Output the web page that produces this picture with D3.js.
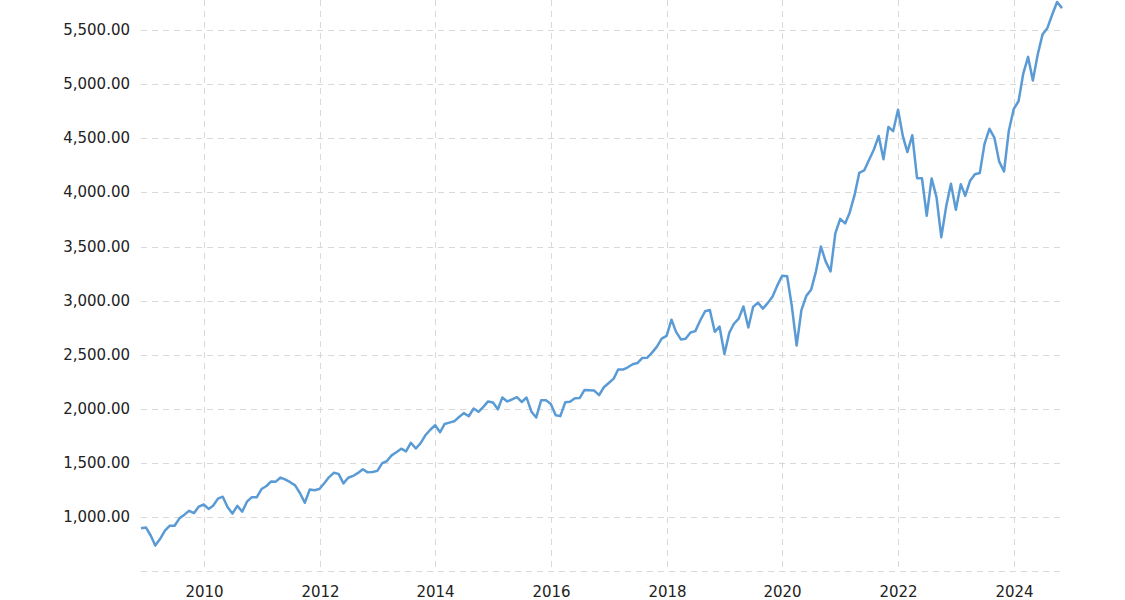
<!DOCTYPE html><html><head><meta charset="utf-8"><script src="https://cdn.jsdelivr.net/npm/d3@7"></script>
<style>body{margin:0;background:#fff}</style></head><body><svg id="c" width="1125" height="600"></svg><script>
const startMonth = [2008, 10]; // Nov 2008 (0-based month)
const values = [896,903,
826,735,798,873,919,919,987,1021,1057,1036,1096,1115,
1074,1104,1169,1187,1089,1031,1102,1049,1141,1183,1181,1258,
1286,1327,1326,1364,1345,1321,1292,1219,1131,1253,1247,1258,
1312,1366,1408,1398,1310,1362,1379,1407,1441,1412,1416,1426,
1498,1515,1569,1598,1631,1606,1686,1633,1682,1757,1806,1848,
1783,1859,1872,1884,1924,1960,1931,2003,1972,2018,2068,2059,
1995,2105,2068,2086,2107,2063,2104,1972,1920,2079,2080,2044,
1940,1932,2060,2065,2097,2099,2174,2171,2168,2126,2199,2239,
2279,2364,2363,2384,2412,2423,2470,2472,2519,2575,2648,2674,
2824,2714,2641,2648,2705,2718,2816,2902,2914,2712,2760,2507,
2704,2784,2834,2946,2752,2942,2980,2926,2977,3038,3141,3231,
3226,2954,2585,2912,3044,3100,3271,3500,3363,3270,3622,3756,
3714,3811,3973,4181,4204,4298,4395,4523,4308,4605,4567,4766,
4516,4374,4530,4132,4132,3785,4130,3955,3586,3872,4080,3840,
4077,3970,4109,4169,4180,4450,4589,4508,4288,4194,4568,4770,
4846,5096,5254,5036,5278,5460,5522,5648,5762,5705];
const yTicks = [1000,1500,2000,2500,3000,3500,4000,4500,5000,5500];
const xTickYears = [2010,2012,2014,2016,2018,2020,2022,2024];

const data = values.map((v,i)=>({d:new Date(startMonth[0], startMonth[1]+i+1, 0), v}));
const svg = d3.select("#c");
const x = d3.scaleTime().domain([data[0].d, data[data.length-1].d]).range([141,1062]);
const y = d3.scaleLinear().domain([500,5780]).range([571,0]);
const grid = {stroke:"#d9d9d9","stroke-dasharray":"6,5","stroke-width":1};
yTicks.concat([500]).forEach(t=>{
  svg.append("line").attr("x1",141).attr("x2",1062).attr("y1",Math.round(y(t))+0.5).attr("y2",Math.round(y(t))+0.5).attr("stroke",grid.stroke).attr("stroke-dasharray",grid["stroke-dasharray"]);
});
xTickYears.forEach(t=>{
  const xx = Math.round(x(new Date(t,0,1)))+0.5;
  svg.append("line").attr("x1",xx).attr("x2",xx).attr("y1",0).attr("y2",571).attr("stroke",grid.stroke).attr("stroke-dasharray",grid["stroke-dasharray"]);
  svg.append("text").attr("x",xx).attr("y",597).attr("text-anchor","middle").attr("font-family","Verdana, DejaVu Sans, sans-serif").attr("font-size",15).attr("fill","#222").text(t);
});
yTicks.forEach(t=>{
  svg.append("text").attr("x",130).attr("y",y(t)+5).attr("text-anchor","end").attr("font-family","Verdana, DejaVu Sans, sans-serif").attr("font-size",15).attr("fill","#222").text(d3.format(",.2f")(t));
});
svg.append("path").datum(data).attr("fill","none").attr("stroke","#5b9bd5").attr("stroke-width",2.5).attr("stroke-linejoin","round")
  .attr("d", d3.line().x(d=>x(d.d)).y(d=>y(d.v)));
</script></body></html>
